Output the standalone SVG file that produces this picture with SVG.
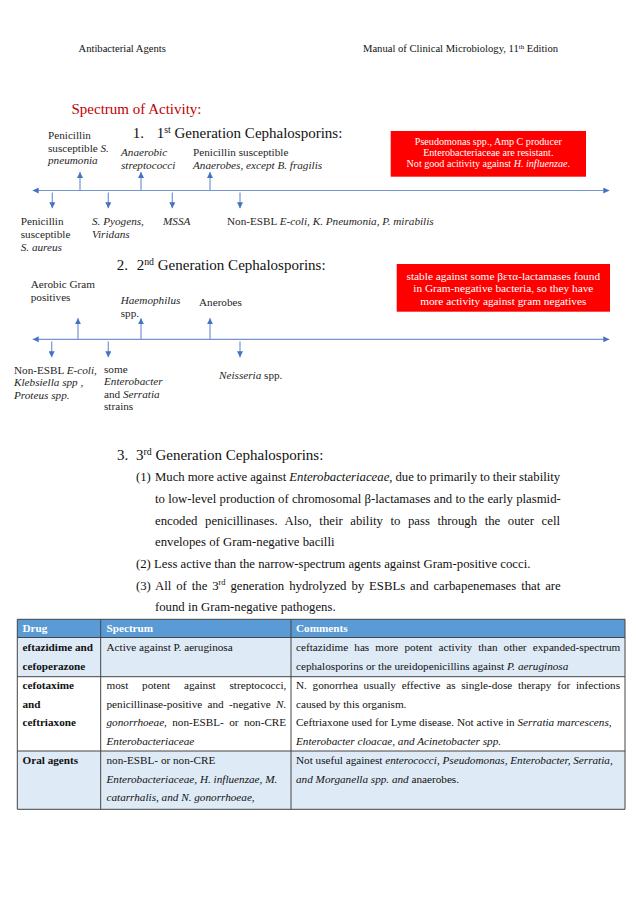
<svg xmlns="http://www.w3.org/2000/svg" width="638" height="902" viewBox="0 0 638 902">
<style>
  .ser { font-family: "Liberation Serif", "Times New Roman", serif; fill: #111; }
  .hdr { font-size: 10.6px; }
  .h1 { font-size: 15px; }
  .red { fill: #C00000; }
  .lbl { font-family: "Liberation Serif", "Times New Roman", serif; font-size: 11.2px; fill: #262626; }
  .it { font-style: italic; }
  .box1 { font-family: "Liberation Serif", "Times New Roman", serif; font-size: 10.1px; fill: #ffffff; text-anchor: middle; }
  .box2 { font-family: "Liberation Serif", "Times New Roman", serif; font-size: 11.3px; fill: #ffffff; text-anchor: middle; }
  .para { font-family: "Liberation Serif", "Times New Roman", serif; font-size: 12.75px; fill: #111; }
  .tb { font-family: "Liberation Serif", "Times New Roman", serif; font-size: 11.2px; fill: #111; }
  .b { font-weight: bold; }
  .th { font-family: "Liberation Serif", "Times New Roman", serif; font-size: 11.2px; font-weight: bold; fill: #ffffff; }
  .tl { stroke: #7396D2; stroke-width: 1.2; fill: none; }
  .ar { stroke: #7396D2; stroke-width: 1.2; fill: none; marker-end: url(#ah); }
  .grid { stroke: #444; stroke-width: 1; fill: none; }
</style>
<defs>
  <marker id="ah" viewBox="0 0 6 6" refX="6" refY="3" markerWidth="6" markerHeight="6" markerUnits="userSpaceOnUse" orient="auto-start-reverse">
    <path d="M0,0 L6,3 L0,6 z" fill="#4472C4"/>
  </marker>
</defs>
<rect width="638" height="902" fill="#ffffff"/>

<g id="page-header">
  <text class="ser hdr" x="78.5" y="52">Antibacterial Agents</text>
  <text class="ser hdr" x="363" y="52">Manual of Clinical Microbiology, 11<tspan dy="-3.5" font-size="7px">th</tspan><tspan dy="3.5"> Edition</tspan></text>
</g>

<g id="title">
  <text class="ser h1 red" x="71.5" y="113.5">Spectrum of Activity:</text>
</g>

<g id="heading-1">
  <text class="ser h1" x="132.7" y="138">1.</text>
  <text class="ser h1" x="156.7" y="138">1<tspan dy="-5" font-size="9.8px">st</tspan><tspan dy="5"> Generation Cephalosporins:</tspan></text>
</g>

<g id="connectors">
  <!-- timeline 1 -->
  <line class="tl" x1="32.7" y1="190.5" x2="609.3" y2="190.5" marker-start="url(#ah)" marker-end="url(#ah)"/>
  <line class="ar" x1="80" y1="190.5" x2="80" y2="172"/>
  <line class="ar" x1="141" y1="190.5" x2="141" y2="172"/>
  <line class="ar" x1="210" y1="190.5" x2="210" y2="172"/>
  <line class="ar" x1="52.3" y1="192.5" x2="52.3" y2="208.3"/>
  <line class="ar" x1="108.3" y1="192.5" x2="108.3" y2="208.3"/>
  <line class="ar" x1="172.3" y1="192.5" x2="172.3" y2="208.3"/>
  <line class="ar" x1="240" y1="192.5" x2="240" y2="208.3"/>
  <!-- timeline 2 -->
  <line class="tl" x1="32.7" y1="339.3" x2="609.3" y2="339.3" marker-start="url(#ah)" marker-end="url(#ah)"/>
  <line class="ar" x1="78" y1="339.3" x2="78" y2="318.3"/>
  <line class="ar" x1="141" y1="339.3" x2="141" y2="318.3"/>
  <line class="ar" x1="210" y1="339.3" x2="210" y2="318.3"/>
  <line class="ar" x1="51.7" y1="341.5" x2="51.7" y2="357.3"/>
  <line class="ar" x1="108.3" y1="341.5" x2="108.3" y2="357.3"/>
  <line class="ar" x1="240" y1="341.5" x2="240" y2="357.3"/>
</g>

<g id="g1-above-pen-spneumonia">
  <text class="lbl" x="48" y="139">Penicillin</text>
  <text class="lbl" x="48" y="151.5">susceptible <tspan class="it">S.</tspan></text>
  <text class="lbl it" x="48" y="164">pneumonia</text>
</g>
<g id="g1-above-anaerobic-strep">
  <text class="lbl it" x="121" y="156">Anaerobic</text>
  <text class="lbl it" x="121" y="168.5">streptococci</text>
</g>
<g id="g1-above-pen-anaerobes">
  <text class="lbl" x="193" y="156">Penicillin susceptible</text>
  <text class="lbl it" x="193" y="168.5">Anaerobes, except B. fragilis</text>
</g>
<g id="g1-box">
  <rect x="390.7" y="131" width="195.3" height="45.7" fill="#FF0000"/>
  <text class="box1" x="488.3" y="144.5">Pseudomonas spp., Amp C producer</text>
  <text class="box1" x="488.3" y="155.7">Enterobacteriaceae are resistant.</text>
  <text class="box1" x="488.3" y="166.8">Not good acitivity against <tspan class="it">H. influenzae</tspan>.</text>
</g>
<g id="g1-below-pen-saureus">
  <text class="lbl" x="20.7" y="225">Penicillin</text>
  <text class="lbl" x="20.7" y="238">susceptible</text>
  <text class="lbl it" x="20.7" y="250.5">S. aureus</text>
</g>
<g id="g1-below-spyogens">
  <text class="lbl it" x="92" y="225">S. Pyogens,</text>
  <text class="lbl it" x="92" y="238">Viridans</text>
</g>
<g id="g1-below-mssa">
  <text class="lbl it" x="163" y="225">MSSA</text>
</g>
<g id="g1-below-nonesbl">
  <text class="lbl" x="227" y="225">Non-ESBL <tspan class="it">E-coli, K. Pneumonia, P. mirabilis</tspan></text>
</g>

<g id="heading-2">
  <text class="ser h1" x="116.7" y="270">2.</text>
  <text class="ser h1" x="136.7" y="270">2<tspan dy="-5" font-size="9.8px">nd</tspan><tspan dy="5"> Generation Cephalosporins:</tspan></text>
</g>

<g id="g2-above-aerobic">
  <text class="lbl" x="30.7" y="288">Aerobic Gram</text>
  <text class="lbl" x="30.7" y="300.5">positives</text>
</g>
<g id="g2-above-haemophilus">
  <text class="lbl it" x="120.7" y="304">Haemophilus</text>
  <text class="lbl" x="120.7" y="316.5">spp.</text>
</g>
<g id="g2-above-anerobes">
  <text class="lbl" x="199" y="306">Anerobes</text>
</g>
<g id="g2-box">
  <rect x="396.7" y="264" width="213.3" height="47.7" fill="#FF0000"/>
  <text class="box2" x="503.3" y="279.5">stable against some βετα-lactamases found</text>
  <text class="box2" x="503.3" y="292">in Gram-negative bacteria, so they have</text>
  <text class="box2" x="503.3" y="304.5">more activity against gram negatives</text>
</g>
<g id="g2-below-nonesbl">
  <text class="lbl" x="14" y="373.5">Non-ESBL <tspan class="it">E-coli,</tspan></text>
  <text class="lbl it" x="14" y="386">Klebsiella spp ,</text>
  <text class="lbl it" x="14" y="398.5">Proteus spp.</text>
</g>
<g id="g2-below-enterobacter">
  <text class="lbl" x="104" y="372.5">some</text>
  <text class="lbl it" x="104" y="385">Enterobacter</text>
  <text class="lbl" x="104" y="397.5">and <tspan class="it">Serratia</tspan></text>
  <text class="lbl" x="104" y="410">strains</text>
</g>
<g id="g2-below-neisseria">
  <text class="lbl" x="219" y="379"><tspan class="it">Neisseria</tspan> spp.</text>
</g>

<g id="heading-3">
  <text class="ser h1" x="117" y="460">3.</text>
  <text class="ser h1" x="136" y="460">3<tspan dy="-5" font-size="9.8px">rd</tspan><tspan dy="5"> Generation Cephalosporins:</tspan></text>
</g>

<g id="third-gen-points">
  <text class="para" x="136" y="481">(1)</text>
  <text class="para" x="155" y="481" word-spacing="-0.26">Much more active against <tspan class="it">Enterobacteriaceae</tspan>, due to primarily to their stability</text>
  <text class="para" x="155" y="503" word-spacing="0.06">to low-level production of chromosomal β-lactamases and to the early plasmid-</text>
  <text class="para" x="155" y="524.7" word-spacing="4.38">encoded penicillinases. Also, their ability to pass through the outer cell</text>
  <text class="para" x="155" y="546.3">envelopes of Gram-negative bacilli</text>
  <text class="para" x="136" y="568">(2) Less active than the narrow-spectrum agents against Gram-positive cocci.</text>
  <text class="para" x="136" y="589.7">(3)</text>
  <text class="para" x="155" y="589.7" word-spacing="1.72">All of the 3<tspan dy="-4.5" font-size="8.3px">rd</tspan><tspan dy="4.5"> generation hydrolyzed by ESBLs and carbapenemases that are</tspan></text>
  <text class="para" x="155" y="611">found in Gram-negative pathogens.</text>
</g>

<g id="table">
  <rect x="17.3" y="619.3" width="607.7" height="18.2" fill="#5B9BD5"/>
  <rect x="17.3" y="637.5" width="607.7" height="39.2" fill="#DEEAF6"/>
  <rect x="17.3" y="676.7" width="607.7" height="74.3" fill="#FFFFFF"/>
  <rect x="17.3" y="751" width="607.7" height="58.3" fill="#DEEAF6"/>
  <path class="grid" d="M17.3,619.3 H625 M17.3,637.5 H625 M17.3,676.7 H625 M17.3,751 H625 M17.3,809.3 H625 M17.3,619.3 V809.3 M100.7,619.3 V809.3 M291,619.3 V809.3 M625,619.3 V809.3"/>

  <text class="th" x="22.5" y="632">Drug</text>
  <text class="th" x="106.5" y="632">Spectrum</text>
  <text class="th" x="296" y="632">Comments</text>

  <text class="tb b" x="22.5" y="651">eftazidime and</text>
  <text class="tb b" x="22.5" y="669.5">cefoperazone</text>
  <text class="tb" x="106.5" y="651">Active against P. aeruginosa</text>
  <text class="tb" x="296" y="651" word-spacing="3.33">ceftazidime has more potent activity than other expanded-spectrum</text>
  <text class="tb" x="296" y="669.5">cephalosporins or the ureidopenicillins against <tspan class="it">P. aeruginosa</tspan></text>

  <text class="tb b" x="22.5" y="689">cefotaxime</text>
  <text class="tb b" x="22.5" y="707.5">and</text>
  <text class="tb b" x="22.5" y="726">ceftriaxone</text>
  <text class="tb" x="106.5" y="689" word-spacing="11.07">most potent against streptococci,</text>
  <text class="tb" x="106.5" y="707.5" word-spacing="2.57">penicillinase-positive and -negative <tspan class="it">N.</tspan></text>
  <text class="tb" x="106.5" y="726" word-spacing="2.57"><tspan class="it">gonorrhoeae</tspan>, non-ESBL- or non-CRE</text>
  <text class="tb it" x="106.5" y="744.5">Enterobacteriaceae</text>
  <text class="tb" x="296" y="689" word-spacing="2.9">N. gonorrhea usually effective as single-dose therapy for infections</text>
  <text class="tb" x="296" y="707.5">caused by this organism.</text>
  <text class="tb" x="296" y="726">Ceftriaxone used for Lyme disease. Not active in <tspan class="it">Serratia marcescens,</tspan></text>
  <text class="tb it" x="296" y="744.5">Enterobacter cloacae, and Acinetobacter spp.</text>

  <text class="tb b" x="22.5" y="764">Oral agents</text>
  <text class="tb" x="106.5" y="764">non-ESBL- or non-CRE</text>
  <text class="tb it" x="106.5" y="782.5">Enterobacteriaceae, H. influenzae, M.</text>
  <text class="tb it" x="106.5" y="801">catarrhalis, and N. gonorrhoeae,</text>
  <text class="tb" x="296" y="764">Not useful againest <tspan class="it">enterococci, Pseudomonas, Enterobacter, Serratia,</tspan></text>
  <text class="tb" x="296" y="782.5"><tspan class="it">and Morganella spp. and</tspan> anaerobes.</text>
</g>
</svg>
